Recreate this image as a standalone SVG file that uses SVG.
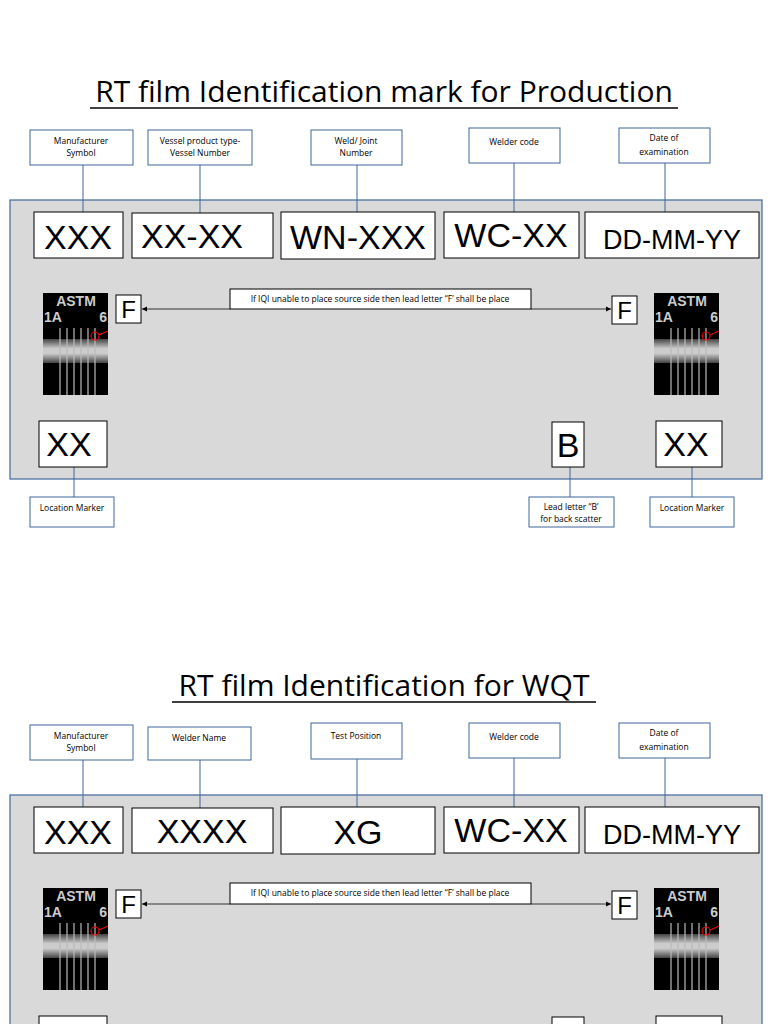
<svg xmlns="http://www.w3.org/2000/svg" width="768" height="1024" viewBox="0 0 768 1024">
<style>
.lb{fill:#fff;stroke:#41679c;stroke-width:1}
.c{stroke:#41679c;stroke-width:1;fill:none}
.pn{fill:#d9d9d9;stroke:#41679c;stroke-width:1.2}
.vb{fill:#fff;stroke:#000;stroke-width:1}
.lt{font-family:"Open Sans","Liberation Sans",sans-serif;font-size:8.5px;text-anchor:middle;fill:#000}
.vt{font-family:"Liberation Sans",Arial,sans-serif;font-size:34px;text-anchor:middle;fill:#000}
.dt{font-family:"Liberation Sans",Arial,sans-serif;font-size:27px;text-anchor:middle;fill:#000}
.ft{font-family:"Liberation Sans",Arial,sans-serif;font-size:24px;text-anchor:middle;fill:#000}
.tt{font-family:"Open Sans","Liberation Sans",sans-serif;font-size:30px;text-anchor:middle;fill:#000}
.ar{stroke:#333;stroke-width:1;fill:none}
.iq{font-family:"Liberation Sans",Arial,sans-serif;font-size:14px;font-weight:bold;fill:#ccc}
</style>
<defs>
<marker id="ah" markerWidth="6" markerHeight="6" refX="5" refY="3" orient="auto"><path d="M0,0.5 L5,3 L0,5.5 z" fill="#000"/></marker>
<linearGradient id="bd" x1="0" y1="0" x2="0" y2="1"><stop offset="0" stop-color="#444"/><stop offset="0.4" stop-color="#ccc"/><stop offset="0.6" stop-color="#ccc"/><stop offset="1" stop-color="#444"/></linearGradient>
<g id="iqi">
<rect x="0" y="0" width="65" height="102" fill="#000"/>
<rect x="0" y="46" width="65" height="24" fill="url(#bd)"/>
<g stroke="#bbb" stroke-width="1.2"><line x1="17" y1="35" x2="17" y2="102"/><line x1="24" y1="35" x2="24" y2="102"/><line x1="31" y1="35" x2="31" y2="102"/><line x1="38" y1="35" x2="38" y2="102"/><line x1="45" y1="35" x2="45" y2="102"/><line x1="52" y1="35" x2="52" y2="102"/></g>
<text class="iq" x="33" y="13" text-anchor="middle">ASTM</text>
<text class="iq" x="1" y="29">1A</text>
<text class="iq" x="64" y="29" text-anchor="end">6</text>
<circle cx="52" cy="43" r="4" fill="none" stroke="#e00" stroke-width="1.2"/>
<line x1="56" y1="42" x2="65" y2="38" stroke="#e00" stroke-width="1.2"/>
</g>
</defs>

<g id="section1">
<text class="tt" x="384" y="102">RT film Identification mark for Production</text>
<line x1="90" y1="108" x2="678" y2="108" stroke="#000" stroke-width="1.5"/>
<rect class="pn" x="10" y="200" width="752" height="279"/>
<g id="connectors1">
<line class="c" x1="83" y1="165" x2="83" y2="212"/>
<line class="c" x1="200" y1="165" x2="200" y2="213"/>
<line class="c" x1="357" y1="165" x2="357" y2="212"/>
<line class="c" x1="514" y1="163" x2="514" y2="212"/>
<line class="c" x1="665" y1="163" x2="665" y2="212"/>
<line class="c" x1="74" y1="467" x2="74" y2="497"/>
<line class="c" x1="570" y1="467" x2="570" y2="497"/>
<line class="c" x1="692" y1="467" x2="692" y2="497"/>
<line class="ar" x1="230" y1="309" x2="142" y2="309" marker-end="url(#ah)"/>
<line class="ar" x1="531" y1="309" x2="611" y2="309" marker-end="url(#ah)"/>
</g>
<g id="lbl-manu1"><rect class="lb" x="30" y="130" width="103" height="35"/><text class="lt" x="81" y="144">Manufacturer</text><text class="lt" x="81" y="156">Symbol</text></g>
<g id="lbl-vessel"><rect class="lb" x="148" y="130" width="104" height="35"/><text class="lt" x="200" y="144">Vessel product type-</text><text class="lt" x="200" y="156">Vessel Number</text></g>
<g id="lbl-weld"><rect class="lb" x="311" y="130" width="91" height="35"/><text class="lt" x="356" y="144">Weld/ Joint</text><text class="lt" x="356" y="156">Number</text></g>
<g id="lbl-wc1"><rect class="lb" x="469" y="128" width="91" height="35"/><text class="lt" x="514" y="145">Welder code</text></g>
<g id="lbl-date1"><rect class="lb" x="619" y="128" width="91" height="35"/><text class="lt" x="664" y="141">Date of</text><text class="lt" x="664" y="155">examination</text></g>
<g id="v-xxx1"><rect class="vb" x="34" y="212" width="89" height="46"/><text class="vt" x="78" y="249">XXX</text></g>
<g id="v-xxxx1"><rect class="vb" x="132" y="213" width="141" height="45"/><text class="vt" x="192" y="248">XX-XX</text></g>
<g id="v-wn"><rect class="vb" x="281" y="212" width="154" height="47"/><text class="vt" x="358" y="249">WN-XXX</text></g>
<g id="v-wc1"><rect class="vb" x="444" y="212" width="135" height="46"/><text class="vt" x="511" y="247">WC-XX</text></g>
<g id="v-date1"><rect class="vb" x="585" y="212" width="174" height="46"/><text class="dt" x="672" y="249">DD-MM-YY</text></g>
<use href="#iqi" x="43" y="293"/>
<use href="#iqi" x="654" y="293"/>
<g id="f1l"><rect class="vb" x="116" y="295" width="25" height="28"/><text class="ft" x="128.5" y="318">F</text></g>
<g id="f1r"><rect class="vb" x="612" y="296" width="25" height="28"/><text class="ft" x="624.5" y="319">F</text></g>
<g id="note1"><rect class="vb" x="230" y="289" width="301" height="20"/><text class="lt" x="380" y="302">If IQI unable to place source side then lead letter “F’ shall be place</text></g>
<g id="xx1l"><rect class="vb" x="39" y="421" width="68" height="46"/><text class="vt" x="69" y="456">XX</text></g>
<g id="b1"><rect class="vb" x="552" y="422" width="32" height="45"/><text class="vt" x="568" y="457">B</text></g>
<g id="xx1r"><rect class="vb" x="656" y="421" width="66" height="46"/><text class="vt" x="686" y="456">XX</text></g>
<g id="lbl-loc1l"><rect class="lb" x="30" y="497" width="84" height="30"/><text class="lt" x="72" y="511">Location Marker</text></g>
<g id="lbl-b"><rect class="lb" x="529" y="497" width="85" height="30"/><text class="lt" x="571" y="510">Lead letter “B’</text><text class="lt" x="571" y="522">for back scatter</text></g>
<g id="lbl-loc1r"><rect class="lb" x="650" y="497" width="84" height="30"/><text class="lt" x="692" y="511">Location Marker</text></g>
</g>

<g id="section2">
<text class="tt" x="384" y="696">RT film Identification for WQT</text>
<line x1="172" y1="702" x2="596" y2="702" stroke="#000" stroke-width="1.5"/>
<rect class="pn" x="10" y="795" width="752" height="279"/>
<g id="connectors2">
<line class="c" x1="83" y1="760" x2="83" y2="807"/>
<line class="c" x1="200" y1="760" x2="200" y2="808"/>
<line class="c" x1="357" y1="759" x2="357" y2="807"/>
<line class="c" x1="514" y1="758" x2="514" y2="807"/>
<line class="c" x1="665" y1="758" x2="665" y2="807"/>
<line class="ar" x1="230" y1="904" x2="142" y2="904" marker-end="url(#ah)"/>
<line class="ar" x1="531" y1="904" x2="611" y2="904" marker-end="url(#ah)"/>
</g>
<g id="lbl-manu2"><rect class="lb" x="30" y="725" width="103" height="35"/><text class="lt" x="81" y="739">Manufacturer</text><text class="lt" x="81" y="751">Symbol</text></g>
<g id="lbl-wname"><rect class="lb" x="148" y="727" width="103" height="33"/><text class="lt" x="199" y="741">Welder Name</text></g>
<g id="lbl-tpos"><rect class="lb" x="311" y="723" width="91" height="36"/><text class="lt" x="356" y="739">Test Position</text></g>
<g id="lbl-wc2"><rect class="lb" x="469" y="723" width="91" height="35"/><text class="lt" x="514" y="740">Welder code</text></g>
<g id="lbl-date2"><rect class="lb" x="619" y="723" width="91" height="35"/><text class="lt" x="664" y="736">Date of</text><text class="lt" x="664" y="750">examination</text></g>
<g id="v-xxx2"><rect class="vb" x="34" y="807" width="89" height="46"/><text class="vt" x="78" y="844">XXX</text></g>
<g id="v-xxxx2"><rect class="vb" x="132" y="808" width="141" height="45"/><text class="vt" x="202" y="843">XXXX</text></g>
<g id="v-xg"><rect class="vb" x="281" y="807" width="154" height="47"/><text class="vt" x="358" y="844">XG</text></g>
<g id="v-wc2"><rect class="vb" x="444" y="807" width="135" height="46"/><text class="vt" x="511" y="842">WC-XX</text></g>
<g id="v-date2"><rect class="vb" x="585" y="807" width="174" height="46"/><text class="dt" x="672" y="844">DD-MM-YY</text></g>
<use href="#iqi" x="43" y="888"/>
<use href="#iqi" x="654" y="888"/>
<g id="f2l"><rect class="vb" x="116" y="890" width="25" height="28"/><text class="ft" x="128.5" y="913">F</text></g>
<g id="f2r"><rect class="vb" x="612" y="891" width="25" height="28"/><text class="ft" x="624.5" y="914">F</text></g>
<g id="note2"><rect class="vb" x="230" y="883" width="301" height="21"/><text class="lt" x="380" y="896">If IQI unable to place source side then lead letter “F’ shall be place</text></g>
<g id="xx2l"><rect class="vb" x="39" y="1016" width="68" height="46"/></g>
<g id="b2"><rect class="vb" x="552" y="1017" width="32" height="45"/></g>
<g id="xx2r"><rect class="vb" x="656" y="1016" width="66" height="46"/></g>
</g>
</svg>
